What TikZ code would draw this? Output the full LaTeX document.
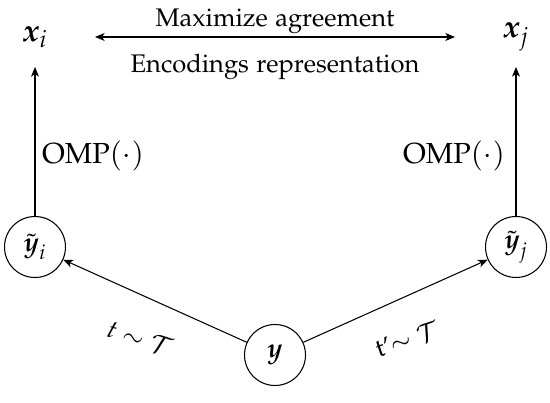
\documentclass[tikz,border=0pt]{standalone}
\usepackage[T1]{fontenc}
\usepackage{amsmath}
\usepackage[sc]{mathpazo}
\usetikzlibrary{arrows.meta}
\begin{document}
\begin{tikzpicture}[x=0.02cm,y=0.02cm,
  every node/.style={font=\fontsize{14.5}{17}\selectfont},
  big/.style={font=\fontsize{18}{21}\selectfont},
  omp/.style={font=\fontsize{16.5}{19}\selectfont},
  circ/.style={circle,draw,line width=0.6pt,minimum size=1.22cm,inner sep=0pt,font=\fontsize{15.5}{18}\selectfont},
  conn/.style={line width=0.6pt},
  >={Stealth[length=5.5pt,width=4.5pt,inset=1.5pt]},
]
\useasboundingbox (0,0) rectangle (550,402);
% nodes
\node[big] (xi) at (35,365) {$\boldsymbol{x}_i$};
\node[big] (xj) at (516,365) {$\boldsymbol{x}_j$};
\node[circ] (yi) at (35,155) {$\tilde{\boldsymbol{y}}_i$};
\node[circ] (yj) at (516,155) {$\tilde{\boldsymbol{y}}_j$};
\node[circ] (y) at (275,47) {$\boldsymbol{y}$};
% texts
\node (ma) at (275,381) {Maximize agreement};
\node (er) at (275,335) {Encodings representation};
\node[omp] (ompl) at (93,246) {OMP$(\cdot)$};
\node[omp] (ompr) at (454,246) {OMP$(\cdot)$};
\node[rotate=-18] (tl) at (140,64) {$t\sim\mathcal{T}$};
\node[rotate=18] (tr) at (407,63) {t'$\sim\mathcal{T}$};
% connectors
\draw[conn,<->,shorten <=1.2cm,shorten >=1.22cm] (xi.center) -- (xj.center);
\draw[conn,->,shorten >=0.6cm] (yi) -- (xi.center);
\draw[conn,->,shorten >=0.6cm] (yj) -- (xj.center);
\draw[conn,->] (y) -- (yi);
\draw[conn,->] (y) -- (yj);
\end{tikzpicture}
\end{document}
